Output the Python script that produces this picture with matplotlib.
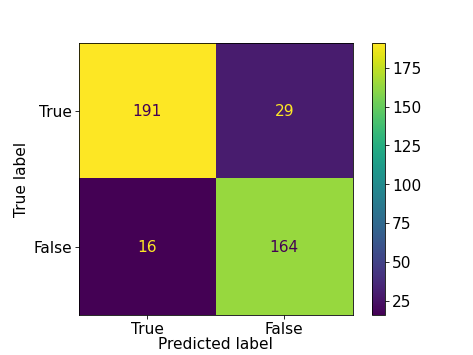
import matplotlib
matplotlib.use("Agg")
import matplotlib.pyplot as plt
import numpy as np

labels = ["True", "False"]
cm = np.array([[191, 29],
               [16, 164]])

plt.rcParams['font.size'] = 15
fig = plt.figure(figsize=(6.4, 4.8), dpi=74)
ax = fig.add_axes([79/474, 40/355, 274/474, 272/355])
cax = fig.add_axes([372/474, 40/355, 13/474, 272/355])

cmap = plt.get_cmap("viridis")
im = ax.imshow(cm, interpolation="nearest", cmap=cmap)
thresh = (cm.max() + cm.min()) / 2.0
cmap_min, cmap_max = cmap(0), cmap(1.0)
for i in range(cm.shape[0]):
    for j in range(cm.shape[1]):
        color = cmap_max if cm[i, j] < thresh else cmap_min
        ax.text(j, i, format(cm[i, j], "d"), ha="center", va="center", color=color)

ax.set_xticks(np.arange(len(labels)))
ax.set_yticks(np.arange(len(labels)))
ax.set_xticklabels(labels)
ax.set_yticklabels(labels)
ax.set_xlabel("Predicted label", labelpad=0)
ax.set_ylabel("True label")
ax.set_ylim(len(labels) - 0.5, -0.5)
ax.set_aspect("auto")
fig.colorbar(im, cax=cax)
fig.savefig("out.png", dpi=74)
